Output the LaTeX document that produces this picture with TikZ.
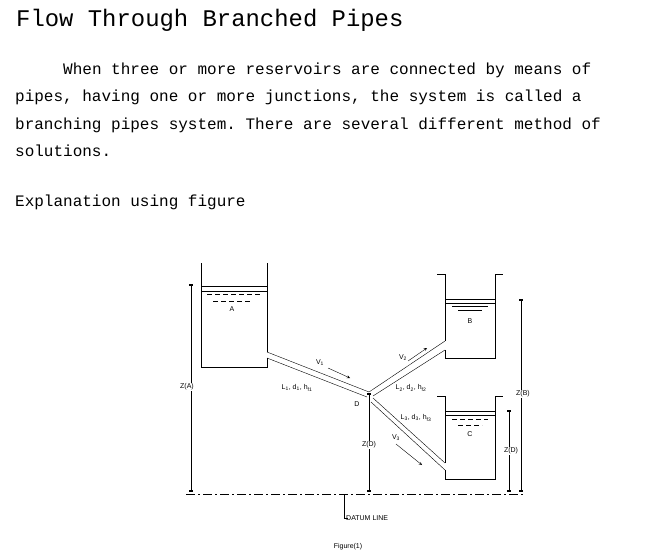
\documentclass[tikz,border=0pt]{standalone}
\usepackage{fontspec}
\setmainfont{Liberation Sans}
\setmonofont{Liberation Mono}
\begin{document}
\begin{tikzpicture}[x=1pt,y=-1pt,
  txt/.style={anchor=base west,inner sep=0,font=\ttfamily\fontsize{16}{18}\selectfont},
  lab/.style={inner sep=0,font=\fontsize{7}{8}\selectfont},
  wall/.style={line width=0.9pt},
  dim/.style={line width=0.7pt},
  tk/.style={line width=2pt}]
\useasboundingbox (0,0) rectangle (672,554);
\node[txt,font=\ttfamily\fontsize{23.9}{26}\selectfont] (title) at (16,26) {Flow Through Branched Pipes};
\node[txt] (l1) at (63,74) {When three or more reservoirs are connected by means of};
\node[txt] (l2) at (15,101) {pipes, having one or more junctions, the system is called a};
\node[txt] (l3) at (15,129) {branching pipes system. There are several different method of};
\node[txt] (l4) at (15,156) {solutions.};
\node[txt] (l5) at (15,206) {Explanation using figure};
% Tank A
\draw[wall] (201,263) -- (201,367) -- (267,367) -- (267,358);
\draw[wall] (267,352) -- (267,263);
\draw (201,286) -- (267,286) (201,291) -- (267,291);
\draw[dashed,dash pattern=on 5pt off 3pt] (207,294) -- (262,294) (213,301) -- (252,301);
\node[lab] (A) at (232,309) {A};
% Tank B
\draw[wall] (437,274) -- (445,274) -- (445,341);
\draw[wall] (445,350) -- (445,358) -- (495,358) -- (495,274) -- (503,274);
\draw (445,299) -- (495,299) (445,303) -- (495,303);
\draw (452,306) -- (488,306) (458,310) -- (482,310);
\node[lab] (B) at (470,321) {B};
% Tank C
\draw[wall] (437,396) -- (445,396) -- (445,463);
\draw[wall] (445,470) -- (445,479) -- (495,479) -- (495,396) -- (503,396);
\draw (445,411) -- (495,411) (445,415) -- (495,415);
\draw[dashed,dash pattern=on 5pt off 3pt] (452,419) -- (488,419) (458,425) -- (482,425);
\node[lab] (C) at (470,434) {C};
% pipes
\draw (267,352) -- (369,392) -- (445,341);
\draw (267,358) -- (367,397);
\draw (373,396) -- (445,350);
\draw (373,398) -- (445,463);
\draw (371,402) -- (445,470);
\node[lab] (D) at (357,404) {D};
% arrows
\draw[->,>=stealth] (328,368) -- (350,378);
\node[lab] (V1) at (320,363) {V\textsubscript{1}};
\draw[->,>=stealth] (408,361) -- (427,348);
\node[lab] (V2) at (403,358) {V\textsubscript{2}};
\draw[->,>=stealth] (396,444) -- (422,465);
\node[lab] (V3) at (396,438) {V\textsubscript{3}};
\node[lab] (L1) at (297,388) {L\textsubscript{1}, d\textsubscript{1}, h\textsubscript{f1}};
\node[lab] (L2) at (411,388) {L\textsubscript{2}, d\textsubscript{2}, h\textsubscript{f2}};
\node[lab] (L3) at (416,418) {L\textsubscript{3}, d\textsubscript{3}, h\textsubscript{f3}};
% datum
\draw[dash pattern=on 9pt off 3pt on 2pt off 3pt] (186,494) -- (524,494);
\draw (344,494) -- (344,518) -- (348,518);
\node[lab,anchor=west] (datum) at (346,518) {DATUM LINE};
\node[lab] (fig) at (348,547) {Figure(1)};
% dimensions
\draw[dim] (191,285) -- (191,491);
\draw[tk] (189,285) -- (193,285) (189,491) -- (193,491);
\node[lab,fill=white,inner sep=1pt] (ZA) at (187,387) {Z(A)};
\draw[dim] (521,300) -- (521,491);
\draw[tk] (519,300) -- (523,300) (519,491) -- (523,491);
\node[lab,fill=white,inner sep=1pt] (ZB) at (523,394) {Z(B)};
\draw[dim] (509,411) -- (509,491);
\draw[tk] (507,411) -- (511,411) (507,491) -- (511,491);
\node[lab,fill=white,inner sep=1pt] (ZD2) at (511,451) {Z(D)};
\draw[dim] (369,394) -- (369,491);
\draw[tk] (367,394) -- (371,394) (367,491) -- (371,491);
\node[lab,fill=white,inner sep=1pt] (ZD) at (369,445) {Z(D)};
\end{tikzpicture}
\end{document}
